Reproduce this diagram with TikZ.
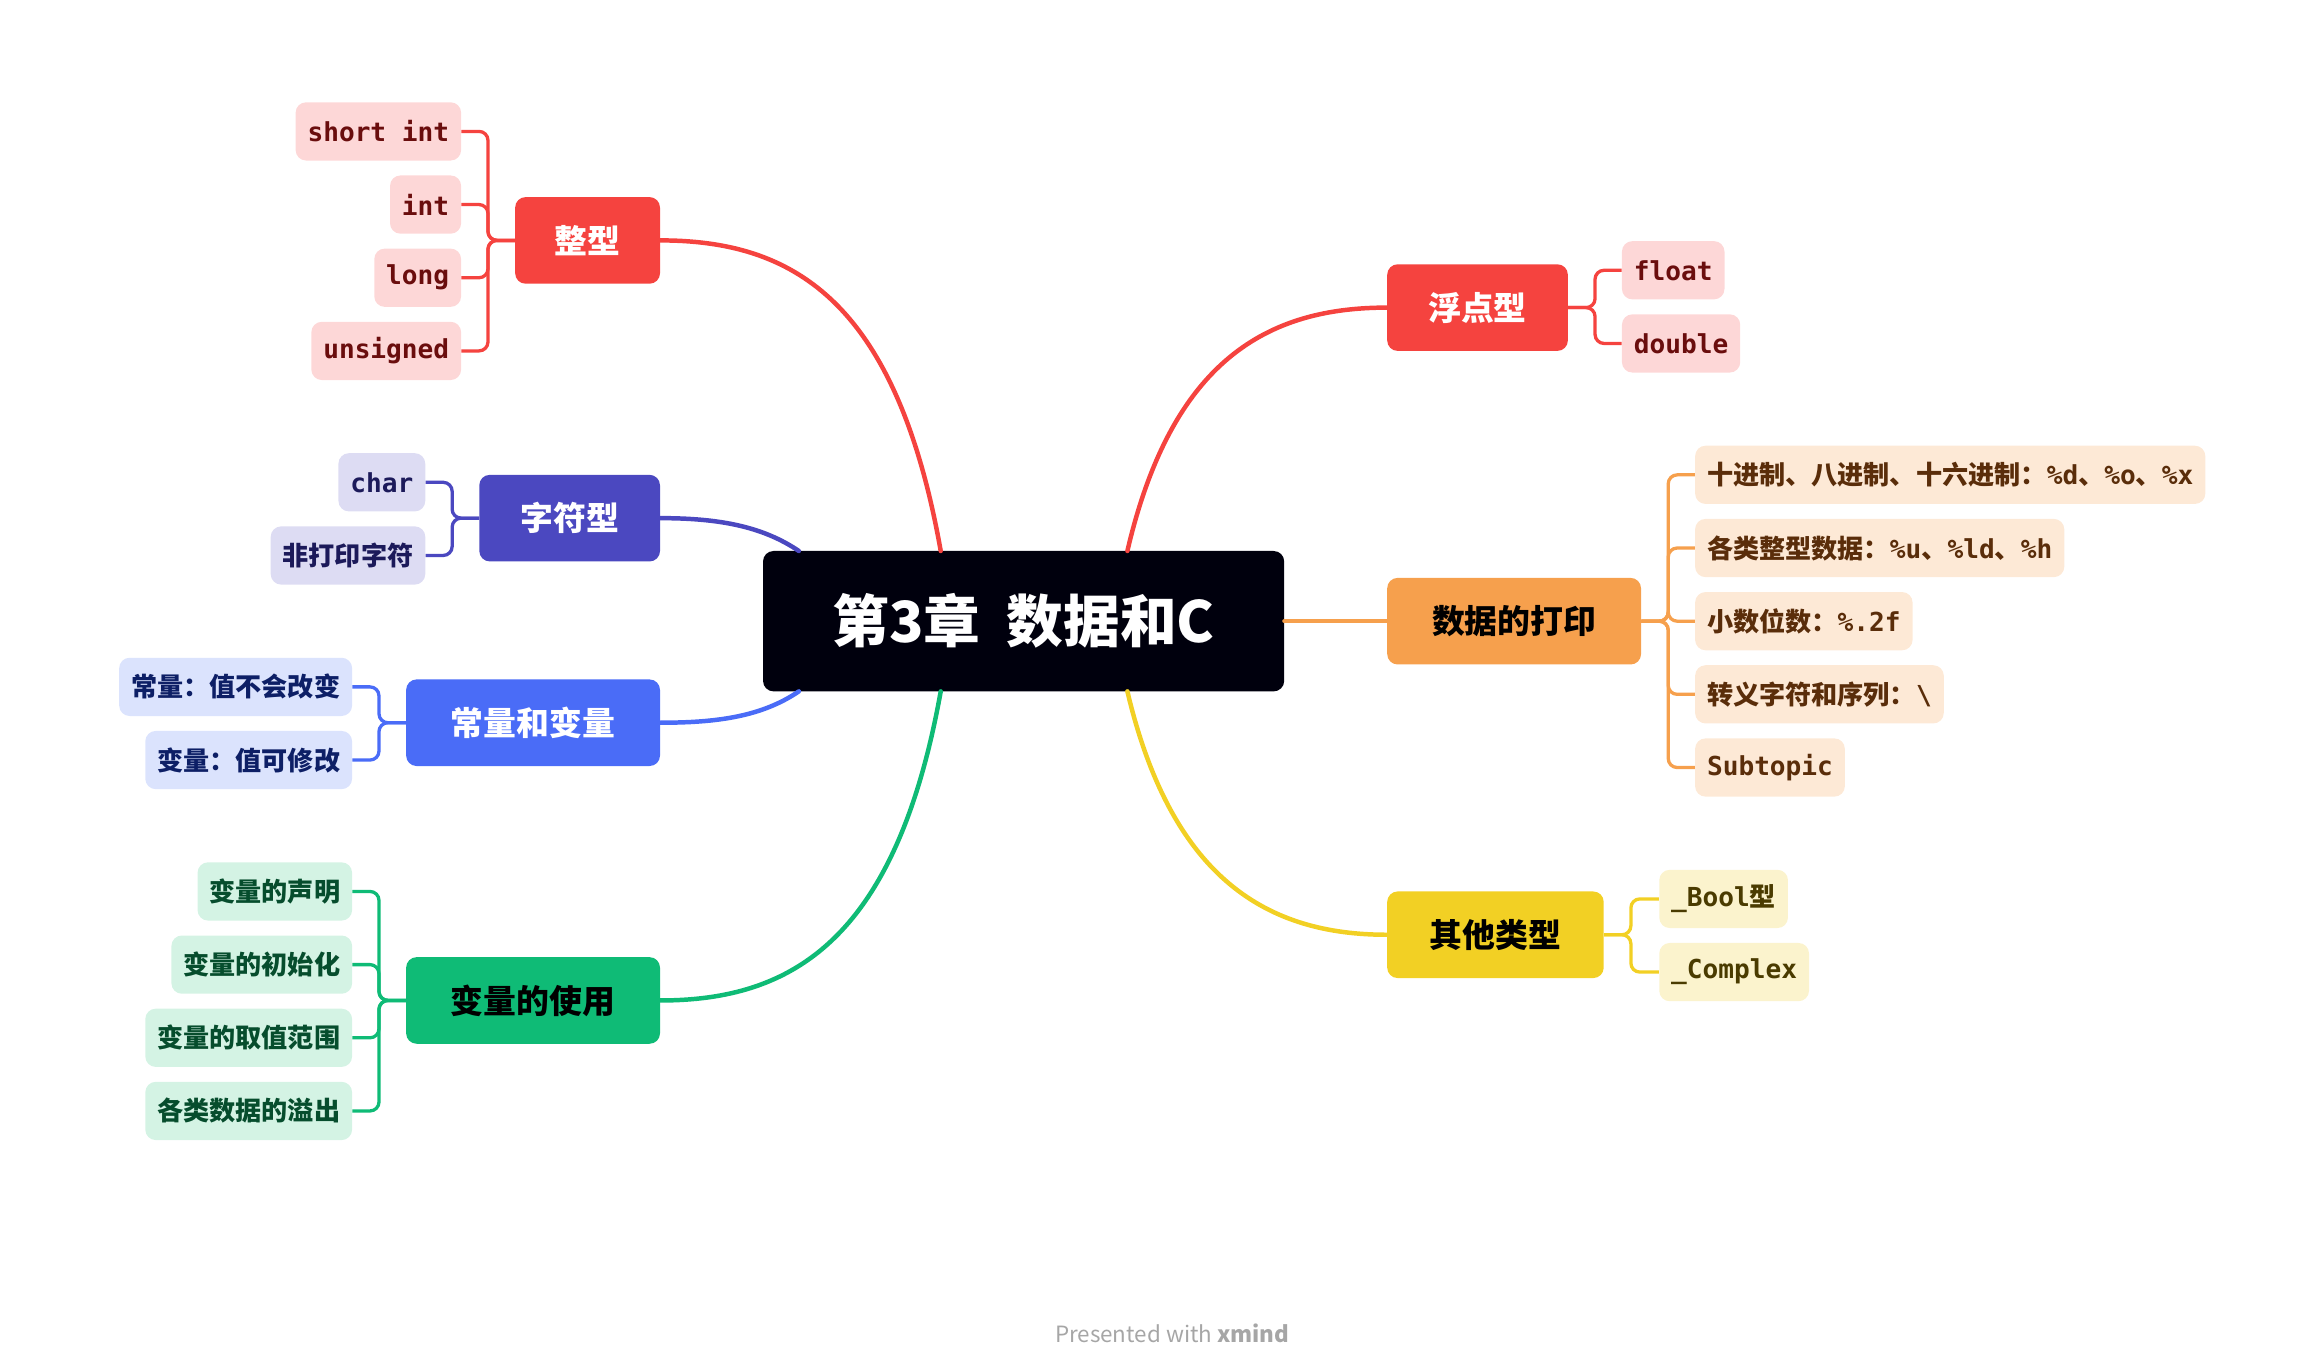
\documentclass[tikz,border=0pt]{standalone}
\usepackage{fontspec}
\setmainfont{Noto Sans CJK SC}
\setmonofont{DejaVu Sans Mono}
\begin{document}
\begin{tikzpicture}[x=1pt,y=-1pt,
 leaf/.style={rounded corners=7,inner xsep=8,inner ysep=0,minimum height=39,font=\bfseries\fontsize{17.5}{17.5}\selectfont},
 br/.style={rounded corners=7,inner xsep=12,minimum height=58,text=white,font=\bfseries\fontsize{22}{22}\selectfont},
 main/.style={line width=3,line cap=round},
 lk/.style={line width=2.2,rounded corners=6}]
\definecolor{cred}{HTML}{F5433F}\definecolor{lred}{HTML}{FDD7D7}\definecolor{tred}{HTML}{6A0D0D}
\definecolor{cpur}{HTML}{4B48C0}\definecolor{lpur}{HTML}{DDDCF3}\definecolor{tpur}{HTML}{1C1A5A}
\definecolor{cblu}{HTML}{4A6CF7}\definecolor{lblu}{HTML}{DBE3FD}\definecolor{tblu}{HTML}{0D1F66}
\definecolor{cgrn}{HTML}{0FBB76}\definecolor{lgrn}{HTML}{D4F3E4}\definecolor{tgrn}{HTML}{064D2D}
\definecolor{corg}{HTML}{F6A04D}\definecolor{lorg}{HTML}{FDE9D6}\definecolor{torg}{HTML}{5A2D0A}
\definecolor{cyel}{HTML}{F2D024}\definecolor{lyel}{HTML}{FBF3CD}\definecolor{tyel}{HTML}{4A3B00}
\useasboundingbox (0,0) rectangle (1547,915);
\node[fill=black!95!blue,rounded corners=7,minimum width=349,minimum height=94,text=white,font=\bfseries\fontsize{38}{38}\selectfont] (c) at (685.5,416) {第3章\ \ 数据和C};
% branches
\node[br,fill=cred,minimum width=97] (zx) at (393.5,161) {整型};
\node[br,fill=cpur,minimum width=121] (zf) at (381.5,347) {字符型};
\node[br,fill=cblu,minimum width=170] (cl) at (357,484) {常量和变量};
\node[br,fill=cgrn,minimum width=170,text=black] (bs) at (357,670) {变量的使用};
\node[br,fill=cred,minimum width=121] (fd) at (989.5,206) {浮点型};
\node[br,fill=corg,minimum width=170,text=black] (dy) at (1014,416) {数据的打印};
\node[br,fill=cyel,minimum width=145,text=black] (qt) at (1001.5,626) {其他类型};
% main connectors
\draw[main,cred] (630,369) .. controls (600,200) and (530,161) .. (zx.east);
\draw[main,cpur] (535,369) .. controls (510,352) and (480,347) .. (zf.east);
\draw[main,cblu] (535,463) .. controls (510,480) and (480,484) .. (cl.east);
\draw[main,cgrn] (630,463) .. controls (600,630) and (530,670) .. (bs.east);
\draw[main,cred] (755,369) .. controls (785,240) and (850,206) .. (fd.west);
\draw[main,corg] (c.east) -- (dy.west);
\draw[main,cyel] (755,463) .. controls (785,590) and (850,626) .. (qt.west);
% leaves
\begin{scope}[every node/.append style={leaf,fill=lred,text=tred,anchor=east}]
\node (z1) at (309,88) {\texttt{short int}};
\node (z2) at (309,137) {\texttt{int}};
\node (z3) at (309,186) {\texttt{long}};
\node (z4) at (309,235) {\texttt{unsigned}};
\end{scope}
\foreach \n in {z1,z2,z3,z4} \draw[lk,cred] (zx.west) -- ++(-18,0) |- (\n.east);
\begin{scope}[every node/.append style={leaf,fill=lpur,text=tpur,anchor=east}]
\node (f1) at (285,323) {\texttt{char}};
\node (f2) at (285,372) {非打印字符};
\end{scope}
\foreach \n in {f1,f2} \draw[lk,cpur] (zf.west) -- ++(-18,0) |- (\n.east);
\begin{scope}[every node/.append style={leaf,fill=lblu,text=tblu,anchor=east}]
\node (l1) at (236,460) {常量：值不会改变};
\node (l2) at (236,509) {变量：值可修改};
\end{scope}
\foreach \n in {l1,l2} \draw[lk,cblu] (cl.west) -- ++(-18,0) |- (\n.east);
\begin{scope}[every node/.append style={leaf,fill=lgrn,text=tgrn,anchor=east}]
\node (b1) at (236,597) {变量的声明};
\node (b2) at (236,646) {变量的初始化};
\node (b3) at (236,695) {变量的取值范围};
\node (b4) at (236,744) {各类数据的溢出};
\end{scope}
\foreach \n in {b1,b2,b3,b4} \draw[lk,cgrn] (bs.west) -- ++(-18,0) |- (\n.east);
\begin{scope}[every node/.append style={leaf,fill=lred,text=tred,anchor=west}]
\node (d1) at (1086,181) {\texttt{float}};
\node (d2) at (1086,230) {\texttt{double}};
\end{scope}
\foreach \n in {d1,d2} \draw[lk,cred] (fd.east) -- ++(18,0) |- (\n.west);
\begin{scope}[every node/.append style={leaf,fill=lorg,text=torg,anchor=west}]
\node (p1) at (1135,318) {十进制、八进制、十六进制：\texttt{\%d}、\texttt{\%o}、\texttt{\%x}};
\node (p2) at (1135,367) {各类整型数据：\texttt{\%u}、\texttt{\%ld}、\texttt{\%h}};
\node (p3) at (1135,416) {小数位数：\texttt{\%.2f}};
\node (p4) at (1135,465) {转义字符和序列：\texttt{\textbackslash}};
\node (p5) at (1135,514) {\texttt{Subtopic}};
\end{scope}
\foreach \n in {p1,p2,p3,p4,p5} \draw[lk,corg] (dy.east) -- ++(18,0) |- (\n.west);
\begin{scope}[every node/.append style={leaf,fill=lyel,text=tyel,anchor=west}]
\node (q1) at (1111,602) {\texttt{\_Bool}型};
\node (q2) at (1111,651) {\texttt{\_Complex}};
\end{scope}
\foreach \n in {q1,q2} \draw[lk,cyel] (qt.east) -- ++(18,0) |- (\n.west);
\node[text=black!35,font=\fontsize{15}{15}\selectfont] (ft) at (785,893) {Presented with \textbf{xmind}};
\end{tikzpicture}
\end{document}
